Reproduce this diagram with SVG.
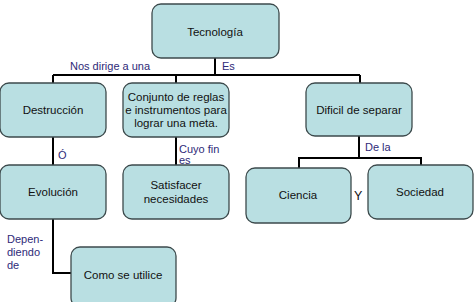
<svg xmlns="http://www.w3.org/2000/svg" width="474" height="302" viewBox="0 0 474 302">
<style>
.box{fill:#b9dfe2;stroke:#3c4a4c;stroke-width:1.3}
.t{font-family:"Liberation Sans",Arial,sans-serif;font-size:11.5px;fill:#111;text-anchor:middle}
.l{font-family:"Liberation Sans",Arial,sans-serif;font-size:11px;fill:#2e2a78}
.c{fill:none;stroke:#000;stroke-width:2}
</style>
<rect width="474" height="302" fill="#fff"/>
<g id="connectors">
<path class="c" d="M215 58V75M53 75H360M53 75V83M176 75V83M360 75V83"/>
<path class="c" d="M53 137V165M53 219V273H71"/>
<path class="c" d="M176 137V165"/>
<path class="c" d="M359 135V158H299V168M359 158H421V165"/>
</g>
<g id="labels">
<text class="l" x="70" y="70">Nos dirige a una</text>
<text class="l" x="222" y="70">Es</text>
<text class="l" x="58" y="159">Ó</text>
<text class="l" x="179" y="153">Cuyo fin</text>
<text class="l" x="179" y="164">es</text>
<text class="l" x="365" y="151">De la</text>
<text class="l" x="7" y="243">Depen-</text>
<text class="l" x="7" y="256">diendo</text>
<text class="l" x="7" y="269">de</text>
<text x="354" y="200" style="font-family:'Liberation Sans',Arial,sans-serif;font-size:12.5px;fill:#111">Y</text>
</g>
<g id="tecnologia"><rect class="box" x="152" y="4" width="127" height="54" rx="9"/><text class="t" x="215" y="36">Tecnología</text></g>
<g id="destruccion"><rect class="box" x="0" y="83" width="106" height="54" rx="9"/><text class="t" x="53" y="114">Destrucción</text></g>
<g id="conjunto"><rect class="box" x="123" y="83" width="106" height="54" rx="9"/><text class="t" x="176" y="101">Conjunto de reglas</text><text class="t" x="176" y="114">e instrumentos para</text><text class="t" x="176" y="127">lograr una meta.</text></g>
<g id="dificil"><rect class="box" x="306" y="83" width="106" height="53" rx="9"/><text class="t" x="359" y="114">Dificil de separar</text></g>
<g id="evolucion"><rect class="box" x="0" y="165" width="106" height="54" rx="9"/><text class="t" x="53" y="196">Evolución</text></g>
<g id="satisfacer"><rect class="box" x="123" y="165" width="106" height="54" rx="9"/><text class="t" x="176" y="189">Satisfacer</text><text class="t" x="176" y="203">necesidades</text></g>
<g id="ciencia"><rect class="box" x="246" y="168" width="105" height="55" rx="9"/><text class="t" x="298" y="199">Ciencia</text></g>
<g id="sociedad"><rect class="box" x="368" y="165" width="105" height="54" rx="9"/><text class="t" x="420" y="196">Sociedad</text></g>
<g id="como"><rect class="box" x="71" y="247" width="105" height="60" rx="9"/><text class="t" x="123" y="279">Como se utilice</text></g>
</svg>
